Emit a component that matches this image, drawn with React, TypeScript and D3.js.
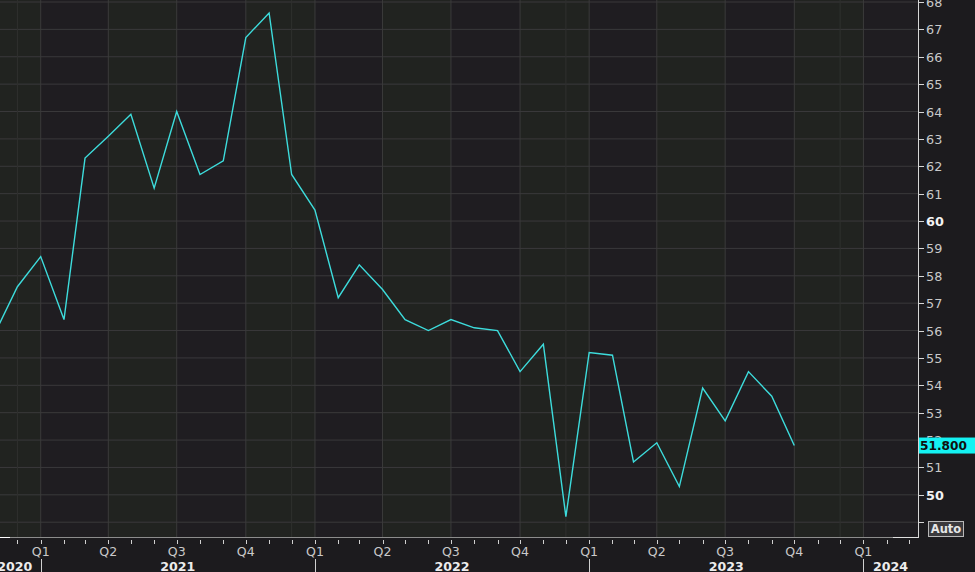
import * as d3 from 'd3'
import { useEffect } from 'react'

// ISM-style monthly index, Nov 2020 .. Oct 2023
const months = [
  '2020-11', '2020-12',
  '2021-01', '2021-02', '2021-03', '2021-04', '2021-05', '2021-06',
  '2021-07', '2021-08', '2021-09', '2021-10', '2021-11', '2021-12',
  '2022-01', '2022-02', '2022-03', '2022-04', '2022-05', '2022-06',
  '2022-07', '2022-08', '2022-09', '2022-10', '2022-11', '2022-12',
  '2023-01', '2023-02', '2023-03', '2023-04', '2023-05', '2023-06',
  '2023-07', '2023-08', '2023-09', '2023-10',
]
const values = [
  55.9, 57.6,
  58.7, 56.4, 62.3, 63.1, 63.9, 61.2,
  64.0, 61.7, 62.2, 66.7, 67.6, 61.7,
  60.4, 57.2, 58.4, 57.5, 56.4, 56.0,
  56.4, 56.1, 56.0, 54.5, 55.5, 49.2,
  55.2, 55.1, 51.2, 51.9, 50.3, 53.9,
  52.7, 54.5, 53.6, 51.8,
]
const yTicks = [50, 51, 52, 53, 54, 55, 56, 57, 58, 59, 60, 61, 62, 63, 64, 65, 66, 67, 68]
const boldTicks = [50, 60]
const quarterNames = ['Q1', 'Q2', 'Q3', 'Q4']
const years = [2020, 2021, 2022, 2023, 2024]
const lastLabel = '51.800'

const W = 975
const H = 572
const plotRight = 918
const plotBottom = 537
const FONT = '"DejaVu Sans", Verdana, sans-serif'

const parse = d3.timeParse('%Y-%m')

const App = () => {
  useEffect(() => {
    document.body.style.margin = '0'
    document.body.style.background = '#1c1b1e'
    const root = d3.select('#chart')
    root.selectAll('*').remove()

    const svg = root
      .append('svg')
      .attr('width', W)
      .attr('height', H)
      .style('display', 'block')
      .style('font-family', FONT)

    svg.append('rect').attr('width', W).attr('height', H).attr('fill', '#1c1b1e')

    const x = d3
      .scaleTime()
      .domain([new Date(2021, 0, 1), new Date(2023, 9, 1)])
      .range([40.7, 794.3])
    const y = d3.scaleLinear().domain([49, 68]).range([522.2, 2.0])

    const x0 = x.invert(0)
    const x1 = x.invert(plotRight)

    svg
      .append('clipPath')
      .attr('id', 'plotclip')
      .append('rect')
      .attr('width', plotRight)
      .attr('height', plotBottom)

    const plot = svg.append('g').attr('clip-path', 'url(#plotclip)')

    // quarter bands
    const quarters = d3.timeMonth.every(3)!.range(d3.timeMonth.offset(x0, -3), x1)
    plot
      .selectAll('rect.band')
      .data(quarters)
      .enter()
      .append('rect')
      .attr('x', (d) => x(d))
      .attr('width', (d) => x(d3.timeMonth.offset(d, 3)) - x(d))
      .attr('y', 0)
      .attr('height', plotBottom)
      .attr('fill', (d) => (d.getMonth() % 6 === 3 ? '#212320' : '#1f1d21'))

    // horizontal grid
    plot
      .selectAll('line.hg')
      .data(d3.range(49, 69))
      .enter()
      .append('line')
      .attr('x1', 0)
      .attr('x2', plotRight)
      .attr('y1', (d) => y(d))
      .attr('y2', (d) => y(d))
      .attr('stroke', '#3a393b')
      .attr('stroke-width', 1)

    // vertical grid at quarter starts, faint lines at december
    plot
      .selectAll('line.vg')
      .data(quarters)
      .enter()
      .append('line')
      .attr('x1', (d) => x(d))
      .attr('x2', (d) => x(d))
      .attr('y1', 0)
      .attr('y2', plotBottom)
      .attr('stroke', '#3b3b3b')
    const decembers = d3.timeMonth.range(x0, x1).filter((d) => d.getMonth() === 11)
    plot
      .selectAll('line.dec')
      .data(decembers)
      .enter()
      .append('line')
      .attr('x1', (d) => x(d))
      .attr('x2', (d) => x(d))
      .attr('y1', 0)
      .attr('y2', plotBottom)
      .attr('stroke', '#2f302e')

    // data line
    const points: [Date, number][] = months.map((m, i) => [parse(m)!, values[i]])
    const line = d3
      .line<[Date, number]>()
      .x((d) => x(d[0]))
      .y((d) => y(d[1]))
    plot
      .append('path')
      .attr('d', line(points))
      .attr('fill', 'none')
      .attr('stroke', '#3ddcdc')
      .attr('stroke-width', 1.4)
      .attr('stroke-linejoin', 'miter')

    // axes lines
    svg
      .append('line')
      .attr('x1', 0)
      .attr('x2', plotRight)
      .attr('y1', plotBottom + 0.5)
      .attr('y2', plotBottom + 0.5)
      .attr('stroke', '#8c8c8c')
    svg
      .append('line')
      .attr('x1', 0)
      .attr('x2', 10)
      .attr('y1', plotBottom + 0.5)
      .attr('y2', plotBottom + 0.5)
      .attr('stroke', '#ffffff')
    svg
      .append('line')
      .attr('x1', plotRight - 25)
      .attr('x2', plotRight)
      .attr('y1', plotBottom + 0.5)
      .attr('y2', plotBottom + 0.5)
      .attr('stroke', '#e0e0e0')
    svg
      .append('line')
      .attr('x1', plotRight + 0.5)
      .attr('x2', plotRight + 0.5)
      .attr('y1', 0)
      .attr('y2', plotBottom + 1)
      .attr('stroke', '#d6d6d6')

    // y ticks and labels
    const yAxis = svg.append('g')
    yTicks.forEach((t) => {
      const yy = Math.round(y(t)) + 0.5
      yAxis
        .append('line')
        .attr('x1', plotRight)
        .attr('x2', plotRight + 6)
        .attr('y1', yy)
        .attr('y2', yy)
        .attr('stroke', '#d6d6d6')
      const bold = boldTicks.includes(t)
      yAxis
        .append('text')
        .attr('x', plotRight + 8)
        .attr('y', yy)
        .attr('dy', '0.36em')
        .attr('font-size', 12.8)
        .attr('font-weight', bold ? 'bold' : 'normal')
        .attr('fill', bold ? '#f2f2f2' : '#c9c9c9')
        .text(t)
    })
    // tick at 49 (label hidden behind Auto)
    yAxis
      .append('line')
      .attr('x1', plotRight)
      .attr('x2', plotRight + 6)
      .attr('y1', Math.round(y(49)) + 0.5)
      .attr('y2', Math.round(y(49)) + 0.5)
      .attr('stroke', '#d6d6d6')

    // last value box
    const last = values[values.length - 1]
    const ly = y(last)
    svg
      .append('rect')
      .attr('x', plotRight + 1)
      .attr('y', ly - 8)
      .attr('width', W - plotRight - 1)
      .attr('height', 16)
      .attr('fill', '#14f2f2')
    svg
      .append('text')
      .attr('x', plotRight + 2)
      .attr('y', ly)
      .attr('dy', '0.36em')
      .attr('font-size', 12.2)
      .attr('font-weight', 'bold')
      .attr('fill', '#101010')
      .text(lastLabel)

    // Auto button
    svg
      .append('rect')
      .attr('x', 928.5)
      .attr('y', 521.5)
      .attr('width', 35)
      .attr('height', 15)
      .attr('fill', '#3a393c')
      .attr('stroke', '#b8b8b8')
    svg
      .append('text')
      .attr('x', 946)
      .attr('y', 529)
      .attr('dy', '0.36em')
      .attr('text-anchor', 'middle')
      .attr('font-size', 11.5)
      .attr('font-weight', 'bold')
      .attr('fill', '#e6e6e6')
      .text('Auto')

    // x month ticks
    const monthTicks = d3.timeMonth.range(x0, x1)
    svg
      .selectAll('line.mt')
      .data(monthTicks)
      .enter()
      .append('line')
      .attr('x1', (d) => Math.round(x(d)) + 0.5)
      .attr('x2', (d) => Math.round(x(d)) + 0.5)
      .attr('y1', plotBottom + 3)
      .attr('y2', plotBottom + 7)
      .attr('stroke', '#d0d0d0')

    // quarter labels
    const qLabels = quarters.filter((d) => x(d) >= 0 && x(d) <= plotRight)
    svg
      .selectAll('text.q')
      .data(qLabels)
      .enter()
      .append('text')
      .attr('x', (d) => x(d))
      .attr('y', 551)
      .attr('dy', '0.36em')
      .attr('text-anchor', 'middle')
      .attr('font-size', 12.6)
      .attr('fill', '#c9c9c9')
      .text((d) => quarterNames[Math.floor(d.getMonth() / 3)])

    // year separators
    const yearStarts = d3.timeYear.range(x0, x1)
    svg
      .selectAll('line.ys')
      .data(yearStarts)
      .enter()
      .append('line')
      .attr('x1', (d) => Math.round(x(d)) + 0.5)
      .attr('x2', (d) => Math.round(x(d)) + 0.5)
      .attr('y1', 559)
      .attr('y2', H)
      .attr('stroke', '#d0d0d0')

    // year labels: centred on the visible part of each year
    years.forEach((yr) => {
      const a = Math.max(0, x(new Date(yr, 0, 1)))
      const b = Math.min(plotRight, x(new Date(yr + 1, 0, 1)))
      let cx = (a + b) / 2
      if (yr === years[0]) cx = b - 26
      if (yr === years[years.length - 1]) cx = a + 27
      svg
        .append('text')
        .attr('x', cx)
        .attr('y', 566.5)
        .attr('dy', '0.36em')
        .attr('text-anchor', 'middle')
        .attr('font-size', 12.6)
        .attr('font-weight', 'bold')
        .attr('fill', '#ececec')
        .text(yr)
    })
  }, [])

  return <div id="chart"></div>
}

export default App
